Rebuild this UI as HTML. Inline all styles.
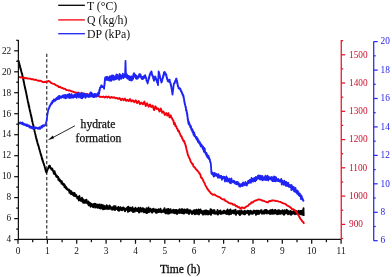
<!DOCTYPE html>
<html><head><meta charset="utf-8"><style>
html,body{margin:0;padding:0;background:#fff;}
body{width:392px;height:277px;overflow:hidden;}
svg{display:block;font-family:"Liberation Serif",serif;will-change:transform;}
</style></head><body>
<svg width="392" height="277" viewBox="0 0 392 277">
<rect width="392" height="277" fill="#fff"/>
<line x1="46.75" y1="53.8" x2="46.75" y2="239.5" stroke="#333" stroke-width="1.2" stroke-dasharray="3.2 2.16"/>
<path d="M18.3 60 L18.4 60.8 L18.5 60.9 L18.7 61.8 L18.8 61.6 L18.9 62.5 L19 62.7 L19.2 63.3 L19.3 63.5 L19.4 64.4 L19.5 64.4 L19.6 65.3 L19.8 65.9 L19.9 65.5 L20 66.5 L20.1 67.3 L20.3 67.5 L20.4 67.9 L20.5 68.9 L20.6 69.3 L20.8 68.9 L20.9 70.1 L21 70.1 L21.1 70.7 L21.3 71.2 L21.4 71.9 L21.5 72.4 L21.7 72.7 L21.8 73.1 L21.9 73.6 L22.1 74.1 L22.2 74.6 L22.3 75.1 L22.4 75.4 L22.6 75.8 L22.7 77 L22.8 77 L22.9 77.6 L23 78.2 L23.1 79 L23.2 78.4 L23.3 79.5 L23.4 80 L23.5 80.2 L23.6 81.1 L23.7 81.6 L23.8 82 L23.9 82.6 L24 82.7 L24.1 82.9 L24.2 83.8 L24.3 84.6 L24.4 85 L24.5 85.7 L24.6 85.9 L24.7 86 L24.8 86.7 L24.9 87.5 L25 88 L25.2 88.4 L25.3 88.8 L25.4 89.6 L25.5 89.2 L25.6 90.5 L25.7 90.3 L25.8 91.5 L25.9 91.4 L26 92.5 L26.1 92.6 L26.2 93.1 L26.3 93.2 L26.4 93.9 L26.5 95 L26.6 95.3 L26.7 95.3 L26.8 96.3 L26.9 96.1 L27 97.1 L27.1 97.2 L27.2 98.7 L27.3 98.4 L27.4 99.2 L27.5 99.3 L27.6 100.2 L27.7 100.5 L27.8 101.1 L27.9 101.3 L28 102.1 L28.1 102.4 L28.3 103.2 L28.4 102.9 L28.5 104.5 L28.6 104.3 L28.7 105.9 L28.8 104.8 L28.9 106 L29 106.3 L29.1 107.3 L29.2 106.4 L29.3 107.4 L29.4 108.2 L29.5 108.6 L29.6 109.7 L29.8 110 L29.9 110.2 L30 111.4 L30.1 111 L30.2 111.5 L30.3 111.9 L30.4 112.4 L30.5 113 L30.6 113.7 L30.7 114.3 L30.8 114.6 L30.9 114.9 L31 115.9 L31.1 115.7 L31.3 116.8 L31.4 116.3 L31.5 117.7 L31.6 118.2 L31.7 118.3 L31.8 118.9 L31.9 119.2 L32 119.7 L32.1 120.8 L32.2 121 L32.3 121.5 L32.5 121.7 L32.6 122.4 L32.7 122.9 L32.8 123.5 L32.9 124 L33 124.2 L33.1 124.4 L33.3 125.4 L33.4 125.5 L33.5 126.6 L33.6 127.7 L33.7 127.2 L33.8 127.7 L33.9 128.6 L34.1 128.5 L34.2 129.6 L34.3 129.8 L34.4 130.2 L34.5 130.5 L34.6 131.7 L34.8 131.9 L34.9 132.4 L35 132.8 L35.1 133.2 L35.2 133.4 L35.3 134 L35.4 134.4 L35.6 135.2 L35.7 135.8 L35.8 136.6 L35.9 136.3 L36 137.2 L36.1 137.5 L36.2 138.6 L36.4 138.3 L36.5 139 L36.6 139 L36.7 140 L36.8 140.6 L37 141.1 L37.1 141 L37.3 142 L37.4 142.7 L37.5 143.1 L37.7 143.4 L37.8 143.7 L37.9 144.3 L38.1 144.6 L38.2 145.4 L38.4 145.3 L38.5 146.1 L38.6 146.7 L38.8 146.6 L38.9 147.5 L39 148.3 L39.2 148.7 L39.3 149.3 L39.5 149.3 L39.6 150.2 L39.7 150.1 L39.9 151.3 L40 151.2 L40.2 152.1 L40.3 152.6 L40.4 153.2 L40.6 153.7 L40.7 153.7 L40.8 154.7 L41 154.4 L41.1 155.6 L41.3 155.4 L41.4 155.8 L41.5 156.6 L41.7 157.5 L41.8 157.3 L41.9 158.9 L42.1 158.6 L42.2 159.2 L42.4 159 L42.5 160.4 L42.6 160.2 L42.8 161.4 L43 161.1 L43.1 162 L43.2 162.2 L43.4 163.1 L43.5 163 L43.7 163.7 L43.9 164.1 L44 164.5 L44.1 165.1 L44.3 165.5 L44.5 165.9 L44.6 166.3 L44.7 166.6 L44.9 167.9 L45 167.9 L45.2 168.4 L45.3 169.3 L45.4 169.2 L45.6 169.5 L45.7 170.2 L45.8 171.1 L46 171.5 L46.1 171.6 L46.3 172.2 L46.4 172.6 L46.6 172 L46.8 171.5 L47 170.8 L47.2 170.2 L47.4 170.1 L47.6 169.6 L47.8 168.9 L48 168.7 L48.2 168.3 L48.5 167.6 L48.7 167.7 L48.9 166.3 L49.1 166.5 L49.3 165.7 L49.6 166.2 L49.9 165.7 L50.2 167.4 L50.5 168.1 L50.8 167.7 L51.1 168.4 L51.4 169.4 L51.7 168.6 L52 169.7 L52.3 168.6 L52.6 170.7 L52.9 170.3 L53.2 171.2 L53.4 171 L53.7 173.1 L54 171.7 L54.3 174.1 L54.6 171.3 L54.9 174.1 L55.2 173.1 L55.5 174.5 L55.8 174.7 L56 176.1 L56.3 175.5 L56.6 177 L56.9 175.6 L57.2 177 L57.5 177 L57.8 177.5 L58.1 176.9 L58.4 179.8 L58.7 178.3 L59 179.8 L59.3 179.2 L59.6 181.2 L59.9 179.4 L60.2 180.9 L60.5 180.6 L60.9 182 L61.2 181.2 L61.5 183.6 L61.8 181.2 L62.1 183.3 L62.4 182.6 L62.7 184.6 L63 184 L63.3 184.8 L63.6 183.9 L63.9 185.5 L64.2 184.1 L64.5 187.2 L64.9 185.3 L65.2 186.9 L65.6 186.5 L65.9 188.4 L66.3 187.2 L66.7 189.3 L67 188.2 L67.4 189.2 L67.7 189.3 L68.1 190.2 L68.5 189.5 L68.8 190.9 L69.2 189.6 L69.5 192.8 L69.9 190.4 L70.3 192.7 L70.6 191.1 L71 194.2 L71.3 191.1 L71.7 193.1 L72.1 193.1 L72.5 194.6 L72.9 192.8 L73.3 195.3 L73.7 194.2 L74.1 196.1 L74.5 193 L74.9 195.9 L75.3 194.4 L75.7 196.2 L76.1 194.8 L76.5 196.8 L76.9 196.5 L77.3 198.5 L77.7 196.6 L78.1 198.1 L78.5 197.6 L78.9 200.5 L79.4 196 L79.8 200.1 L80.2 198.6 L80.7 200.8 L81.2 198.4 L81.6 200.8 L82 197.8 L82.5 201.9 L83 199.3 L83.4 202.8 L83.8 199.9 L84.3 202.7 L84.8 200.7 L85.2 202.9 L85.6 200.1 L86.1 202.5 L86.5 199.8 L87 203.2 L87.4 202 L87.8 203.9 L88.3 201.4 L88.7 205.3 L89.1 202.1 L89.6 204.4 L90 203 L90.5 206.7 L91 203.6 L91.5 205.1 L92 204.1 L92.5 206.8 L92.9 204.9 L93.4 207.3 L93.9 204 L94.4 205.6 L94.9 203.6 L95.4 207.6 L95.9 204.1 L96.4 206 L96.9 205.4 L97.4 207.9 L97.9 204.4 L98.3 207.6 L98.8 206 L99.3 208 L99.8 204.4 L100.3 208.5 L100.8 205.9 L101.3 207.7 L101.8 204.6 L102.3 208.7 L102.8 205.4 L103.2 209.3 L103.7 205.5 L104.2 209.1 L104.7 206.2 L105.2 208.7 L105.7 206.5 L106.2 208.7 L106.7 205.2 L107.2 208.7 L107.7 206.2 L108.1 209 L108.6 207 L109.1 208.9 L109.6 205.5 L110.1 208.7 L110.6 206.6 L111.1 208.6 L111.6 207.8 L112.1 209.9 L112.6 207.5 L113 208.3 L113.5 206.4 L114 209.6 L114.5 206.2 L115 210.1 L115.5 206.3 L116 208.7 L116.5 208 L117 209.1 L117.5 207.8 L118 210.4 L118.5 206.9 L119 210.9 L119.5 208 L120 209.6 L120.5 207.2 L121 210 L121.5 208.3 L122 210.4 L122.5 207.7 L123 209.9 L123.5 207.4 L124 209.4 L124.5 208.3 L125 211.3 L125.5 209.1 L126 209.9 L126.5 208.1 L127 209.7 L127.5 207.2 L128 211.9 L128.5 206.8 L129 211.4 L129.5 208.1 L130 210.7 L130.5 207.8 L131 210.2 L131.5 208.7 L132 211 L132.5 207.2 L133 212 L133.5 209 L134 211.8 L134.5 208.8 L135 211.5 L135.5 207.6 L136 210.5 L136.5 208.9 L137 211.1 L137.5 208.8 L138 211.1 L138.5 207.8 L139 212.5 L139.5 209.1 L140 211.4 L140.5 207.8 L141 211.7 L141.5 209.5 L142 210.9 L142.5 208.1 L143 211.6 L143.5 208.4 L144 212.3 L144.5 209.2 L145 212 L145.5 209.9 L146 212.7 L146.5 208.1 L147 213.1 L147.5 209.5 L148 211.9 L148.5 207.5 L149 212.2 L149.5 209.3 L150 211.5 L150.5 208.7 L151 211.1 L151.5 209.9 L152 212.7 L152.5 209.3 L153 211.7 L153.5 208.8 L154 211.2 L154.5 209.6 L155 211.6 L155.5 209.5 L156 212.9 L156.5 209.8 L157 212.7 L157.5 209.9 L158 212 L158.5 209.1 L159 212.1 L159.5 210.3 L160 211.7 L160.5 208.7 L161 212.2 L161.5 210.3 L162 212.2 L162.5 210.9 L163 211.6 L163.5 209.7 L164 212 L164.5 208.3 L165 212.6 L165.5 210.3 L166 213.5 L166.5 209.5 L167 212.3 L167.5 209.3 L168 213.6 L168.5 209 L169 213.6 L169.5 210.6 L170 212.8 L170.5 209.2 L171 212.9 L171.5 210.7 L172 212.1 L172.5 210.1 L173 212.7 L173.5 209.6 L174 212.9 L174.5 210.4 L175 213.4 L175.5 210 L176 212.7 L176.5 209.9 L177 214 L177.5 210.8 L178 212.8 L178.5 210.1 L179 212.7 L179.5 209.3 L180 213.1 L180.5 210.6 L181 211.8 L181.5 209.1 L182 213.1 L182.5 209.1 L183 213.3 L183.5 210.1 L184 213.6 L184.5 209.5 L185 212.6 L185.5 210.1 L186 212.5 L186.5 209.5 L187 213 L187.5 209.3 L188 212.7 L188.5 210.3 L189 214.1 L189.5 210.1 L190 212.3 L190.5 210.3 L191 212.9 L191.5 211.5 L192 214.1 L192.5 211.5 L193 213.5 L193.5 210.5 L194 212.5 L194.5 210.3 L195 214.3 L195.5 210.4 L196 212.9 L196.5 209.8 L197 214 L197.5 211.3 L198 213.6 L198.5 209.5 L199 214.5 L199.5 210 L200 213.1 L200.5 209.4 L201 212.1 L201.5 210.8 L202 213.5 L202.5 211.4 L203 214.7 L203.5 211.3 L204 214.3 L204.5 210.6 L205 213.1 L205.5 210.4 L206 214.5 L206.5 210.5 L207 212.9 L207.5 211 L208 214.5 L208.5 211.1 L209 214 L209.5 211.5 L210 213.9 L210.5 209.3 L211 214.8 L211.5 209.7 L212 213.2 L212.5 211.9 L213 212.8 L213.5 210.2 L214 213.5 L214.5 210.2 L215 213.9 L215.5 212.3 L216 212.9 L216.5 212 L217 213.9 L217.5 210 L218 214.6 L218.5 211.4 L219 212.4 L219.5 211 L220 213.6 L220.5 210.4 L221 214 L221.5 212 L222 213.4 L222.5 211.6 L223 213.3 L223.5 210.6 L224 213.3 L224.5 210.8 L225 212.8 L225.5 211.7 L226 213.7 L226.5 211 L227 214 L227.5 209.4 L228 213.7 L228.5 212 L229 214.6 L229.5 210.1 L230 213.6 L230.5 209.4 L231 214.1 L231.5 211.5 L232 212.7 L232.5 210.6 L233 213.1 L233.5 210.4 L234 213.5 L234.5 210.4 L235 213.4 L235.5 209.7 L236 214.8 L236.5 212.1 L237 213.2 L237.5 211.2 L238 213.1 L238.5 211.3 L239 214.2 L239.5 210.7 L240 215.1 L240.5 211.7 L241 213.7 L241.5 210.5 L242 213.9 L242.5 211.6 L243 211.7 L243.5 211.7 L244 214.4 L244.5 210.8 L245 214.3 L245.5 211.1 L246 211.9 L246.5 211.9 L247 213.3 L247.5 210.8 L248 212.9 L248.5 211 L249 214.8 L249.5 211.4 L250 213.6 L250.5 210.8 L251 213.6 L251.5 211.4 L252 213.9 L252.5 211.9 L253 213.7 L253.5 210.6 L254 213 L254.5 210.7 L255 212.2 L255.5 210.9 L256 214.8 L256.5 210.7 L257 213.9 L257.5 210.7 L258 214.1 L258.5 210.8 L259 213.9 L259.5 212.2 L260 212.4 L260.5 210.5 L261 212.8 L261.5 210.1 L262 213.8 L262.5 211.4 L263 212.2 L263.5 211.2 L264 213.9 L264.5 210.1 L265 212.9 L265.5 210 L266 213.3 L266.5 210 L267 213.5 L267.5 211 L268 213.1 L268.5 211.5 L269 213.2 L269.5 210.8 L270 214.1 L270.5 210.1 L271 213.8 L271.5 210.2 L272 213.6 L272.5 209.8 L273 213.9 L273.5 211.7 L274 213.6 L274.5 210.2 L275 213.5 L275.5 210 L276 212 L276.5 211.4 L277 214.2 L277.5 210.6 L278 214.2 L278.5 210.1 L279 213.1 L279.5 210.5 L280 214 L280.5 211.2 L281 212.4 L281.5 210.9 L282 213.7 L282.5 210.3 L283 213.7 L283.5 211.8 L284 214.8 L284.5 210.3 L285 213.5 L285.5 211.3 L286.1 213.2 L286.6 209.7 L287.1 213.5 L287.6 210.4 L288.1 214.4 L288.6 211.2 L289.1 213.2 L289.6 211.4 L290.1 214.2 L290.6 210.9 L291.1 214.8 L291.6 211.7 L292.1 213.9 L292.6 212.5 L293.1 213.3 L293.6 211 L294.1 213.9 L294.6 210.4 L295.1 214.2 L295.6 210.8 L296.1 213.8 L296.6 211.3 L297.1 213.9 L297.7 211.6 L298.2 213.9 L298.7 210.6 L299.2 213.9 L299.7 211.5 L300.2 214.3 L300.7 210.9 L301.2 214 L301.7 210.6 L302.2 214.6 L302.7 210.4 L303.2 212.8 L303.2 210.2 L303.3 211.8 L303.3 209.9 L303.4 210.5 L303.4 208.9 L303.4 209.6 L303.5 208.5 L303.5 208.2 L303.5 208.7 L303.5 209.2 L303.5 209.7 L303.5 210.1 L303.5 210.6 L303.5 211.1 L303.5 211.6 L303.6 212.1 L303.6 212.6 L303.6 213.1 L303.6 213.6 L303.6 214.1 L303.6 214.5 L303.6 215 L303.6 215.5 L303.6 216" fill="none" stroke="#000" stroke-width="1.9" stroke-linejoin="round"/>
<path d="M18.6 76.8 L20 77.2 L21.3 77.1 L22.6 78.1 L24 77.7 L25.5 78.3 L27 78.3 L28.4 78.6 L29.9 78.6 L31.4 79.2 L32.8 79.2 L34.3 79.9 L35.7 79.7 L37.1 80.3 L38.6 80.8 L40 80.6 L41.5 81.2 L43.1 82.2 L44.8 81.8 L46.5 82 L47.6 81.4 L48.8 81 L50.1 81.9 L51.5 83.2 L52.8 83.6 L54 83.9 L55.3 84.7 L56.4 85.6 L57.6 85.6 L58.8 87.1 L59.9 86.8 L61.2 87.8 L62.5 88 L63.9 88.9 L65.2 88.8 L66.4 90.1 L67.6 90.1 L68.8 90.5 L70 90.5 L71.5 91.3 L72.9 91.6 L74.4 92.3 L75.8 92.6 L77.3 92.8 L78.7 92.8 L80.1 93.9 L81.4 93.2 L82.8 93.8 L84.2 93.6 L85.6 94.3 L87 94.1 L88.4 94.7 L89.7 94.4 L91.1 95.4 L92.5 95.5 L93.9 95.5 L95.3 95.3 L96.7 96.2 L98 95.4 L99.4 96.8 L100.8 96.8 L102.1 97.1 L103.4 96.5 L104.7 97.5 L106.1 96.4 L107.4 97.6 L108.7 96.5 L110 98 L111.4 96.9 L112.8 97.8 L114.1 97.2 L115.5 98.2 L116.9 97.9 L118.2 98.9 L119.6 98.1 L121 100.2 L122.3 98.7 L123.6 100.2 L124.9 98.6 L126.1 100.8 L127.4 99.8 L128.7 101.1 L130 99.1 L131.4 101.5 L132.9 100.3 L134.3 102.3 L135.7 100.2 L137.1 103.1 L138.6 101 L140 104.2 L141.4 102.5 L142.9 104.3 L144.3 101.6 L145.7 106 L147.1 103.3 L148.6 106.7 L150 104.4 L151.3 107 L152.7 105.6 L154.1 110.1 L155.4 106.3 L156.8 109 L158.1 108.4 L159.5 111.5 L160.8 108.5 L162.2 112.7 L163.5 111.6 L164.8 115 L166.2 113 L167.3 115.6 L168.4 113.2 L169.6 117.4 L170.7 115.3 L171.4 117.7 L172.1 118.3 L172.7 119.8 L173.4 120.5 L174.1 124.2 L174.8 123 L175.4 126 L176.1 126 L176.8 128.3 L177.4 128.9 L178.1 131 L178.8 130.8 L179.5 133 L180.2 134.2 L180.8 136 L181.5 136.2 L182.2 138.4 L182.8 139.3 L183.5 141.1 L184.2 141 L184.6 143 L185.1 143.6 L185.6 145.7 L186 146.6 L186.3 148.5 L186.7 149.9 L187 151.1 L187.3 152 L187.6 154.1 L188 155 L188.3 155.6 L188.9 157.1 L189.6 158.6 L190.2 160 L190.9 162.2 L191.5 162.5 L192.1 163.9 L192.8 163.9 L193.4 166.4 L194.2 167 L195.1 167.9 L195.9 169.1 L196.8 170 L197.7 171 L198.5 172 L199.1 172.9 L199.8 173.9 L200.4 174.8 L201 177.5 L201.6 177.6 L202.3 178.8 L202.9 179.5 L203.5 181.4 L204.1 182.5 L204.6 183.1 L205.2 184.8 L205.8 186 L206.5 187 L207.2 188.7 L208 189.5 L208.7 190.7 L209.8 191.8 L210.8 193.2 L211.9 194 L213 194.9 L214.2 194.4 L215.5 195.3 L216.8 196 L218 196.7 L219.3 196.9 L220.6 198.1 L221.8 198.8 L223.1 199.5 L224.3 199.3 L225.4 200.9 L226.6 201.3 L227.7 202 L228.9 202.9 L230.3 203.5 L231.8 203.5 L233.2 204.7 L234.7 204.4 L235.9 206.3 L237 206 L238.2 207.4 L239.3 207.1 L240.5 208.7 L241.9 207.5 L243.2 207.8 L244.6 208.1 L245.8 206.9 L246.9 206.2 L248.1 205.8 L249.2 204.2 L250.4 203.9 L251.5 202.2 L252.6 202.6 L253.6 201.5 L254.7 200.8 L255.8 200.5 L257 200.2 L258.2 199.5 L259.4 199.4 L260.9 199.9 L262.3 200.6 L263.8 200.8 L265.2 201.5 L266.7 202.2 L268 202.2 L269.4 200.9 L270.7 201.1 L272 200.4 L273.4 200.5 L274.8 200.6 L276.1 201 L277.5 201.1 L278.9 201.6 L280.4 201.9 L281.8 202.7 L283.3 203.3 L284.7 203.7 L285.9 204.4 L287.1 205.5 L288.4 206.1 L289.6 206.8 L290.8 207.7 L292 209.1 L293.2 209.3 L294.4 210.4 L295.6 211 L296.8 212.3 L297.4 213.4 L298.1 214.8 L298.7 215.6 L299.3 216.8 L300 218.1 L300.6 219 L301.5 220.1 L302.4 221.5 L303.3 222.1 L304.2 223.7" fill="none" stroke="#f5000a" stroke-width="1.9" stroke-linejoin="round"/>
<path d="M18.4 122.8 L18.9 123.8 L19.5 122.6 L20 123.4 L20.5 122.4 L21 123.3 L21.6 123 L22.1 124.1 L22.6 122.5 L23.1 124.6 L23.7 123.8 L24.2 124.9 L24.7 124 L25.2 125.1 L25.7 124.6 L26.2 125.7 L26.8 124.4 L27.3 126.2 L27.8 125.5 L28.3 125.9 L28.8 125.3 L29.3 127.4 L29.8 126.1 L30.3 127.8 L30.8 126.7 L31.3 127.9 L31.9 126.7 L32.4 128.6 L32.9 127.1 L33.4 128.7 L33.9 128 L34.4 128.5 L35 127.1 L35.5 128.4 L36.1 127.5 L36.7 128.2 L37.2 128 L37.8 128.8 L38.4 127.8 L38.9 128.6 L39.5 127.3 L40 129 L40.5 127.3 L40.9 128 L41.4 126.1 L41.9 127.7 L42.3 125.7 L42.8 126.8 L43.3 125.1 L43.8 126.2 L44.3 125.3 L44.8 125.5 L45.3 125 L45.5 124.8 L45.6 123.8 L45.8 123.9 L46 123.3 L46.2 122.3 L46.3 121.7 L46.5 121.3 L46.6 120.9 L46.6 120.5 L46.7 119.7 L46.8 119.9 L46.8 118.9 L46.9 118.9 L47 117.9 L47 117.4 L47.1 116.9 L47.2 116.3 L47.2 115.6 L47.3 115.2 L47.4 115 L47.5 114.1 L47.6 113 L47.7 113.2 L47.8 112.2 L47.9 112.2 L48 111 L48.1 110.9 L48.2 110 L48.3 110 L48.5 109 L48.7 109.1 L48.9 108.4 L49.1 108.2 L49.3 106.8 L49.5 107.3 L49.7 105.9 L49.9 106.1 L50.1 105.1 L50.3 105.9 L50.5 104.8 L50.8 104.5 L51.2 103.1 L51.5 104 L51.8 102.5 L52.1 103.3 L52.5 100.8 L52.8 102 L53.1 101.1 L53.5 101.8 L53.8 99.4 L54.3 100.5 L54.8 99.6 L55.2 100.8 L55.7 99 L56.2 99.9 L56.7 97.8 L57.1 99.4 L57.6 97.1 L58.1 99 L58.6 96.2 L59.2 98.8 L59.7 96 L60.2 97.8 L60.8 96.6 L61.3 97.9 L61.9 96.1 L62.4 97.1 L62.9 95.3 L63.5 97.6 L64 95.2 L64.6 97.8 L65.1 94.8 L65.6 98.3 L66.2 95.5 L66.7 97.9 L67.3 95 L67.8 96.8 L68.3 94.3 L68.9 97.9 L69.5 93.8 L70 98.2 L70.5 94.8 L71.1 97.6 L71.6 94.2 L72.2 97.5 L72.8 95.7 L73.3 97.7 L73.9 95.2 L74.4 97.2 L75 94.5 L75.5 96.8 L76.1 94.1 L76.6 97.9 L77.2 94 L77.8 96.5 L78.3 93.1 L78.9 97.5 L79.4 94.9 L80 96.7 L80.5 93.9 L81.1 98.1 L81.7 92.7 L82.2 98.3 L82.8 94.2 L83.3 97 L83.9 93.4 L84.4 96.7 L85 94.2 L85.5 97.8 L86.1 94.5 L86.6 96.6 L87.2 94.1 L87.7 96.7 L88.3 95 L88.8 97 L89.4 94.4 L89.9 96.8 L90.4 92.3 L91 96.2 L91.5 92.7 L92.1 96.5 L92.6 93.9 L93.2 97 L93.7 94.6 L94.2 97.2 L94.8 94 L95.3 96.6 L95.9 93.9 L96.4 96.7 L97 94.7 L97.5 95.7 L98.1 92.8 L98.6 95.4 L98.7 92.1 L98.8 94.5 L98.9 91.9 L99.1 93.8 L99.2 91.4 L99.3 92.8 L99.4 89.6 L99.5 91 L99.7 89.4 L99.8 90.7 L99.9 88 L100 89.1 L100.2 87.3 L100.5 87.7 L100.7 86.8 L100.9 87.4 L101.2 85.4 L101.4 86.3 L101.9 85.6 L102.3 87.2 L102.8 86.4 L103.2 87.1 L103.6 87.1 L104.1 88.8 L104.2 86.9 L104.2 87 L104.3 85.3 L104.4 86.1 L104.4 84.1 L104.5 85.6 L104.6 82.8 L104.6 84.2 L104.7 81.2 L104.7 83.6 L104.8 80.5 L104.9 81.9 L104.9 78.9 L105 80.6 L105.1 78.2 L105.1 80 L105.2 77.4 L105.8 78.6 L106.3 76.9 L106.9 80.1 L107.5 77 L108 79.8 L108.6 78.2 L109.2 80.6 L109.7 76.3 L110.3 80.6 L110.9 76.1 L111.4 80.8 L112 75.4 L112.5 79.4 L113.1 75.5 L113.6 79.8 L114.2 76.7 L114.7 79.5 L115.3 76.1 L115.8 79.2 L116.4 74.5 L116.9 78.9 L117.5 74.8 L118 78.3 L118.5 76.9 L119.1 79.9 L119.6 73.8 L120.2 78.5 L120.7 75.1 L121.3 78.9 L121.8 75.6 L122.3 76.7 L122.9 73.7 L123.4 78.2 L124 75.7 L124.5 76.9 L125.1 73.5 L125.1 75.7 L125.1 74.4 L125.1 74.6 L125.2 71.6 L125.2 75.2 L125.2 71.1 L125.2 73.2 L125.2 71.1 L125.2 71.3 L125.2 69.7 L125.3 71 L125.3 68.6 L125.3 70.2 L125.3 67.6 L125.3 68.3 L125.3 66.6 L125.4 66.9 L125.4 65.5 L125.4 66.1 L125.4 64.4 L125.4 64.3 L125.4 63.5 L125.4 63.4 L125.5 62.2 L125.5 62.2 L125.5 61.5 L125.5 61 L125.5 61.5 L125.5 62.2 L125.5 62.6 L125.6 63.6 L125.6 63.5 L125.6 64.7 L125.6 64.6 L125.6 66 L125.6 65.8 L125.6 67 L125.7 67 L125.7 68.2 L125.7 67.6 L125.7 69.5 L125.7 68.7 L125.7 70.1 L125.8 69.2 L125.8 72.1 L125.8 71.3 L125.8 72.5 L125.8 71.7 L125.8 74.2 L125.8 73.2 L125.9 76.9 L125.9 72.4 L125.9 75.9 L125.9 73.1 L126.4 77.5 L126.9 74.3 L127.4 78.6 L127.9 75.9 L128.4 78.9 L128.9 75.8 L129.4 80.2 L129.8 77 L130.2 79.3 L130.6 76.7 L131.1 80.6 L131.5 76.4 L131.9 80.3 L132.3 77.5 L132.5 79.6 L132.6 77.2 L132.8 79.4 L133 76.7 L133.2 78.6 L133.3 74.4 L133.5 76.7 L133.7 74.2 L133.8 76.2 L134 73.1 L134.4 75.4 L134.8 74.3 L135.1 77.1 L135.5 75 L135.9 78.5 L136.2 75.7 L136.6 78.9 L137 77.5 L137.4 78.6 L137.8 76.3 L138.1 78.1 L138.5 76 L138.9 77.1 L139.2 74.2 L139.6 75.5 L140 74.1 L140.2 75.2 L140.4 74.3 L140.7 77 L140.9 75.5 L141.1 77.8 L141.3 77.2 L141.6 78.4 L141.8 77.6 L142 79.1 L142.4 76.9 L142.8 79.1 L143.1 77.6 L143.5 78.4 L143.9 76.2 L144.2 77.9 L144.6 75.6 L145 76.7 L145.2 75.2 L145.4 77.8 L145.6 76.4 L145.8 78.2 L146 77.7 L146.2 78.9 L146.3 78 L146.5 80.7 L146.7 80.5 L146.9 81.5 L147.1 81 L147.3 82.2 L147.5 82.4 L147.7 83.5 L147.8 81.4 L148 82.1 L148.1 80.5 L148.3 81 L148.4 79.8 L148.5 79.8 L148.7 78.8 L148.8 79.3 L148.9 77.4 L149.1 78.7 L149.2 76.3 L149.4 77.3 L149.5 75.1 L149.7 76.1 L149.9 74 L150.1 74.8 L150.3 73.8 L150.4 73.8 L150.6 72.5 L150.8 72.9 L151 72 L151.2 72.7 L151.4 71.4 L151.5 73 L151.7 72.2 L151.9 73.9 L152 74.1 L152.2 75.7 L152.4 74.8 L152.6 76.3 L152.7 76.2 L152.9 76.9 L153.1 76.3 L153.2 78.4 L153.4 77.9 L153.6 79.3 L153.7 78.3 L153.9 80.8 L154.1 78.8 L154.4 79.9 L154.6 77.7 L154.8 78 L155.1 76.3 L155.3 77.6 L155.5 76.8 L155.7 78.2 L155.9 78 L156.1 79.7 L156.3 79.2 L156.5 80.7 L156.7 79.9 L156.8 81.9 L157 81.6 L157.2 82.4 L157.4 82.6 L157.6 83.5 L157.8 83.3 L158 85.2 L158 83 L158.1 83.8 L158.1 81.9 L158.1 83.6 L158.2 80.9 L158.2 81.9 L158.2 80 L158.2 81.2 L158.3 79.4 L158.3 79.8 L158.3 78.5 L158.4 78.3 L158.4 76.3 L158.4 77.1 L158.5 75.4 L158.5 76.9 L158.5 74.8 L158.5 75.9 L158.6 73.9 L158.6 74.5 L158.6 71.4 L158.7 72.7 L158.7 71.6 L158.8 72.9 L159 72.3 L159.1 74.3 L159.3 73.3 L159.4 75.6 L159.5 74 L159.7 76.3 L159.8 75.5 L160 77.3 L160.1 76.8 L160.2 78.3 L160.4 78 L160.5 79.1 L160.7 78.9 L160.8 80.5 L160.9 79.4 L161.1 81.1 L161.2 81.2 L161.4 82.5 L161.5 82.3 L161.6 82.4 L161.8 80.9 L161.9 81.9 L162.1 79.5 L162.2 80.3 L162.4 79.4 L162.5 79.2 L162.7 77.9 L162.8 78.7 L163 75.8 L163.1 76.8 L163.3 75.4 L163.4 77 L163.6 74.2 L163.7 75.6 L163.9 72.3 L164 74.2 L164.2 72.1 L164.3 73 L164.6 71.8 L165 74.2 L165.3 72.8 L165.7 74.8 L166 74.4 L166.2 75.5 L166.3 74.5 L166.4 76.6 L166.6 76.1 L166.8 77.9 L166.9 77.6 L167.1 79.3 L167.2 77.9 L167.4 79.4 L167.5 79.4 L167.7 81.2 L167.8 80.5 L168.4 81.7 L168.9 79.8 L169.5 80.4 L169.7 79.7 L169.8 81.2 L170 81.5 L170.1 82.7 L170.3 82.8 L170.4 83.5 L170.6 83.1 L170.7 84.9 L170.9 84.2 L171 86.2 L171.2 85.8 L171.3 86.3 L171.4 87.1 L171.4 88.3 L171.5 87.5 L171.6 88.9 L171.7 88.9 L171.8 89.9 L171.8 90.3 L171.9 91 L172 91.1 L172.1 92 L172.2 92.2 L172.3 93 L172.3 93.4 L172.4 94 L172.5 94.5 L172.6 94 L172.6 93.4 L172.7 92.9 L172.8 92.2 L172.8 91.9 L172.9 91.1 L173 91 L173 89.7 L173.1 89.8 L173.2 88.8 L173.3 88.5 L173.3 87.9 L173.4 87.7 L173.5 86.3 L173.5 86.9 L173.6 85.5 L173.7 85.2 L173.7 84.3 L173.8 84.5 L174.1 83.3 L174.3 83.2 L174.6 82.4 L174.8 83 L175.1 80.9 L175.4 81.2 L175.6 80.1 L175.9 80.8 L176.1 78.7 L176.4 79.5 L176.5 78.7 L176.6 80.9 L176.8 80.3 L176.9 81.6 L177 80.5 L177.1 82.9 L177.2 81.8 L177.4 84.2 L177.5 82.7 L177.6 84.8 L177.7 84.1 L177.8 86.2 L178 85.9 L178.1 86.5 L178.2 86.1 L178.6 88.3 L178.9 87.7 L179.3 88.8 L179.7 88.1 L180.1 89.5 L180.4 88.8 L180.8 90.7 L181 90.4 L181.2 91.7 L181.5 91.3 L181.7 92.8 L181.9 92.1 L182.1 93.9 L182.3 93 L182.5 94.6 L182.8 94.5 L183 96 L183.2 95 L183.4 96.9 L183.5 95.7 L183.6 97.6 L183.7 96.8 L183.8 98.8 L183.9 98 L184 99.3 L184.1 98.8 L184.2 101.4 L184.3 101.2 L184.4 101.6 L184.5 101.2 L184.6 103.4 L184.7 102.3 L184.8 104.1 L184.9 103.5 L185 104.8 L185.1 104.5 L185.2 105.7 L185.4 105.7 L185.5 107.2 L185.6 106.5 L185.8 108 L185.9 107 L186 110.2 L186.1 108.8 L186.3 110.2 L186.4 109.9 L186.5 111.8 L186.7 110.8 L186.8 113.5 L186.9 112.3 L187 113.1 L187.1 113 L187.1 115 L187.2 113.5 L187.3 116.2 L187.4 114.3 L187.5 116.8 L187.6 117 L187.6 119.1 L187.7 117.2 L187.8 119 L187.9 118.7 L188 120.9 L188.1 119.4 L188.1 121.6 L188.2 120.4 L188.3 122.9 L188.5 121.1 L188.8 124.5 L189 122 L189.3 124.9 L189.5 123.5 L189.7 125.1 L190 124.8 L190.2 127.1 L190.4 126.2 L190.7 127.8 L190.9 126 L191.2 129 L191.4 128.1 L191.6 130.3 L191.9 128.6 L192.1 130.9 L192.4 130.1 L192.6 132.5 L192.8 130.1 L193.1 133.2 L193.3 131.4 L193.5 134.8 L193.8 133 L194 134.5 L194.3 132.6 L194.5 136.3 L194.8 134.6 L195.1 136.7 L195.3 136 L195.6 137.3 L195.9 136.8 L196.2 139 L196.5 136.9 L196.8 139.5 L197 139.8 L197.3 140.3 L197.6 138.4 L197.9 141.8 L198.2 139.9 L198.4 142.1 L198.7 140.3 L199 143.1 L199.3 141.9 L199.6 143.8 L199.9 142.2 L200.2 145.2 L200.5 143.8 L200.8 146.5 L201.1 144.1 L201.4 146.5 L201.8 145.1 L202.1 147.1 L202.4 146.7 L202.7 149 L203 146.3 L203.3 149.6 L203.6 148.8 L203.9 151.8 L204.2 147.8 L204.5 150.7 L204.8 148.7 L205 152.1 L205.3 151.8 L205.6 153.8 L205.8 153 L206.1 154.8 L206.4 152.8 L206.6 155.6 L206.9 154 L207.2 157.1 L207.5 155.1 L207.7 157.1 L208 156 L208.3 158.3 L208.5 155.9 L208.8 158.9 L209.1 157.3 L209.3 159.4 L209.6 158.8 L209.8 160.5 L209.9 159.5 L210.1 162.1 L210.3 161.3 L210.5 162.4 L210.6 162.6 L210.8 163.7 L210.8 163.4 L210.9 164.5 L210.9 164.4 L210.9 165.5 L211 165.9 L211 166.5 L211 166.7 L211.1 167.9 L211.1 167.6 L211.2 169.6 L211.2 168.9 L211.2 170.6 L211.3 169.6 L211.3 172 L211.3 171 L211.4 173.2 L211.4 172.1 L211.9 174.1 L212.3 172.4 L212.8 174.9 L213.2 173.3 L213.7 176.6 L214.2 172.8 L214.7 176.1 L215.2 173.3 L215.7 175.4 L216.2 173.8 L216.8 175.9 L217.3 174.6 L217.8 177.6 L218.3 174.1 L218.8 177.7 L219.3 175.3 L219.8 177.6 L220.3 175.8 L220.8 177.9 L221.3 175.9 L221.9 179.8 L222.4 177.2 L222.9 178.2 L223.4 176.7 L223.9 178.4 L224.4 176.8 L224.9 181.5 L225.4 178.4 L225.9 180.4 L226.4 176.5 L226.9 181.4 L227.4 177.9 L227.9 181.3 L228.4 179.5 L228.9 181.6 L229.4 178.7 L229.9 182.9 L230.4 179.6 L230.9 183.4 L231.4 178.5 L231.9 181.8 L232.4 181 L232.9 182.3 L233.5 180.7 L234 182.6 L234.5 181.2 L235 183.6 L235.6 182.3 L236.1 184 L236.6 181.9 L237.1 184.3 L237.7 181.9 L238.2 184.5 L238.7 183 L239.2 186.3 L239.8 184.2 L240.3 186.7 L240.8 184.3 L241.4 185.8 L242 183.7 L242.5 186.1 L243.1 182.3 L243.7 185.4 L244.3 183.8 L244.8 184.9 L245.4 181.8 L246 185 L246.4 183.6 L246.8 185.5 L247.2 182.8 L247.6 183.8 L248 181.1 L248.4 183.1 L248.8 180.6 L249.2 182.9 L249.6 179.8 L250 181.6 L250.4 180.2 L250.9 182.8 L251.5 178 L252 181.3 L252.6 178.9 L253.1 181.6 L253.6 178.3 L254.2 181 L254.7 177.9 L255.3 181.4 L255.8 177 L256.3 180.2 L256.9 177.2 L257.4 178.9 L258 175.6 L258.5 178.4 L259 175.3 L259.6 179.3 L260.1 175.7 L260.7 179.6 L261.2 176.1 L261.7 179.5 L262.3 175.9 L262.8 180.3 L263.3 177.4 L263.9 179.5 L264.4 177.2 L264.9 179.8 L265.5 175.6 L266 180.2 L266.6 177.2 L267.1 179.9 L267.6 175.7 L268.2 180.5 L268.7 177 L269.2 179.2 L269.8 177.3 L270.3 179.4 L270.8 177.3 L271.4 179.8 L271.9 177 L272.4 181.2 L272.9 178.1 L273.5 181.2 L274 176.5 L274.5 181.2 L275.1 176.9 L275.6 181.4 L276.1 177.3 L276.7 180.9 L277.2 179.6 L277.7 180.8 L278.2 178.8 L278.8 181.2 L279.3 180.1 L279.8 181.7 L280.3 179.8 L280.8 181.8 L281.3 178.9 L281.8 184.6 L282.3 180.6 L282.8 183.6 L283.3 181.8 L283.8 184.8 L284.3 180.7 L284.8 184.6 L285.3 182 L285.8 185.9 L286.3 181.9 L286.8 185.9 L287.3 182.8 L287.8 186.2 L288.3 182.8 L288.8 186.8 L289.2 184.9 L289.7 186.9 L290.1 185.3 L290.6 187.4 L291 184.9 L291.4 190.1 L291.9 185.5 L292.4 189.6 L292.8 187.5 L293.2 188.7 L293.7 186.9 L294.1 191.4 L294.6 189.2 L295.1 191.9 L295.5 188 L295.9 192.2 L296.2 190.5 L296.6 192.8 L297 190.4 L297.3 193.9 L297.7 191 L298.1 194.5 L298.4 192 L298.8 195.4 L299.2 193.5 L299.5 196 L299.9 193.6 L300.3 196.4 L300.6 195.3 L301 199.1 L301.3 195.5 L301.5 198.8 L301.8 196.3 L302.1 199 L302.4 198.4 L302.6 199.9 L302.9 199.2 L303.2 200.9 L303.4 200.5 L303.7 201.3" fill="none" stroke="#1f24f5" stroke-width="1.8" stroke-linejoin="round"/>
<g stroke="#111" stroke-width="1.25" fill="none">
<line x1="18.4" y1="40.0" x2="18.4" y2="239.95"/>
<line x1="17.9" y1="239.45" x2="341.25" y2="239.45"/>
<line x1="14.2" y1="239.6" x2="18.4" y2="239.6"/>
<line x1="16.2" y1="229.1" x2="18.4" y2="229.1"/>
<line x1="14.2" y1="218.6" x2="18.4" y2="218.6"/>
<line x1="16.2" y1="208.1" x2="18.4" y2="208.1"/>
<line x1="14.2" y1="197.6" x2="18.4" y2="197.6"/>
<line x1="16.2" y1="187.1" x2="18.4" y2="187.1"/>
<line x1="14.2" y1="176.7" x2="18.4" y2="176.7"/>
<line x1="16.2" y1="166.2" x2="18.4" y2="166.2"/>
<line x1="14.2" y1="155.7" x2="18.4" y2="155.7"/>
<line x1="16.2" y1="145.2" x2="18.4" y2="145.2"/>
<line x1="14.2" y1="134.7" x2="18.4" y2="134.7"/>
<line x1="16.2" y1="124.2" x2="18.4" y2="124.2"/>
<line x1="14.2" y1="113.7" x2="18.4" y2="113.7"/>
<line x1="16.2" y1="103.2" x2="18.4" y2="103.2"/>
<line x1="14.2" y1="92.7" x2="18.4" y2="92.7"/>
<line x1="16.2" y1="82.2" x2="18.4" y2="82.2"/>
<line x1="14.2" y1="71.8" x2="18.4" y2="71.8"/>
<line x1="16.2" y1="61.3" x2="18.4" y2="61.3"/>
<line x1="14.2" y1="50.8" x2="18.4" y2="50.8"/>
<line x1="16.2" y1="40.3" x2="18.4" y2="40.3"/>
<line x1="18" y1="239.45" x2="18" y2="243.8"/>
<line x1="32.7" y1="239.45" x2="32.7" y2="242.2"/>
<line x1="47.4" y1="239.45" x2="47.4" y2="243.8"/>
<line x1="62.1" y1="239.45" x2="62.1" y2="242.2"/>
<line x1="76.7" y1="239.45" x2="76.7" y2="243.8"/>
<line x1="91.4" y1="239.45" x2="91.4" y2="242.2"/>
<line x1="106.1" y1="239.45" x2="106.1" y2="243.8"/>
<line x1="120.8" y1="239.45" x2="120.8" y2="242.2"/>
<line x1="135.5" y1="239.45" x2="135.5" y2="243.8"/>
<line x1="150.2" y1="239.45" x2="150.2" y2="242.2"/>
<line x1="164.8" y1="239.45" x2="164.8" y2="243.8"/>
<line x1="179.5" y1="239.45" x2="179.5" y2="242.2"/>
<line x1="194.2" y1="239.45" x2="194.2" y2="243.8"/>
<line x1="208.9" y1="239.45" x2="208.9" y2="242.2"/>
<line x1="223.6" y1="239.45" x2="223.6" y2="243.8"/>
<line x1="238.3" y1="239.45" x2="238.3" y2="242.2"/>
<line x1="253" y1="239.45" x2="253" y2="243.8"/>
<line x1="267.6" y1="239.45" x2="267.6" y2="242.2"/>
<line x1="282.3" y1="239.45" x2="282.3" y2="243.8"/>
<line x1="297" y1="239.45" x2="297" y2="242.2"/>
<line x1="311.7" y1="239.45" x2="311.7" y2="243.8"/>
<line x1="326.4" y1="239.45" x2="326.4" y2="242.2"/>
<line x1="341.1" y1="239.45" x2="341.1" y2="243.8"/>
</g>
<g stroke="#e8102a" stroke-width="1.25" fill="none">
<line x1="341.25" y1="40.0" x2="341.25" y2="239.45"/>
<line x1="341.25" y1="238.5" x2="343.2" y2="238.5"/>
<line x1="341.25" y1="224.4" x2="345.2" y2="224.4"/>
<line x1="341.25" y1="210.2" x2="343.2" y2="210.2"/>
<line x1="341.25" y1="196.1" x2="345.2" y2="196.1"/>
<line x1="341.25" y1="182" x2="343.2" y2="182"/>
<line x1="341.25" y1="167.8" x2="345.2" y2="167.8"/>
<line x1="341.25" y1="153.7" x2="343.2" y2="153.7"/>
<line x1="341.25" y1="139.6" x2="345.2" y2="139.6"/>
<line x1="341.25" y1="125.4" x2="343.2" y2="125.4"/>
<line x1="341.25" y1="111.3" x2="345.2" y2="111.3"/>
<line x1="341.25" y1="97.2" x2="343.2" y2="97.2"/>
<line x1="341.25" y1="83" x2="345.2" y2="83"/>
<line x1="341.25" y1="68.9" x2="343.2" y2="68.9"/>
<line x1="341.25" y1="54.8" x2="345.2" y2="54.8"/>
<line x1="341.25" y1="40.7" x2="343.2" y2="40.7"/>
</g>
<g stroke="#2a2af0" stroke-width="1.25" fill="none">
<line x1="373.7" y1="41.6" x2="373.7" y2="240.7"/>
<line x1="373.7" y1="240.7" x2="377.7" y2="240.7"/>
<line x1="373.7" y1="226.5" x2="375.7" y2="226.5"/>
<line x1="373.7" y1="212.3" x2="377.7" y2="212.3"/>
<line x1="373.7" y1="198" x2="375.7" y2="198"/>
<line x1="373.7" y1="183.8" x2="377.7" y2="183.8"/>
<line x1="373.7" y1="169.6" x2="375.7" y2="169.6"/>
<line x1="373.7" y1="155.4" x2="377.7" y2="155.4"/>
<line x1="373.7" y1="141.2" x2="375.7" y2="141.2"/>
<line x1="373.7" y1="126.9" x2="377.7" y2="126.9"/>
<line x1="373.7" y1="112.7" x2="375.7" y2="112.7"/>
<line x1="373.7" y1="98.5" x2="377.7" y2="98.5"/>
<line x1="373.7" y1="84.3" x2="375.7" y2="84.3"/>
<line x1="373.7" y1="70.1" x2="377.7" y2="70.1"/>
<line x1="373.7" y1="55.8" x2="375.7" y2="55.8"/>
<line x1="373.7" y1="41.6" x2="377.7" y2="41.6"/>
</g>
<line x1="74.9" y1="125.8" x2="52" y2="138" stroke="#111" stroke-width="0.9"/>
<path d="M47.8 140.2 L52.8 135.6 L54.2 138.3 Z" fill="#111"/>
<g fill="#111">
<text x="11.2" y="242.3" text-anchor="end" font-size="9.3">4</text>
<text x="11.2" y="221.4" text-anchor="end" font-size="9.3">6</text>
<text x="11.2" y="200.4" text-anchor="end" font-size="9.3">8</text>
<text x="11.2" y="179.4" text-anchor="end" font-size="9.3">10</text>
<text x="11.2" y="158.4" text-anchor="end" font-size="9.3">12</text>
<text x="11.2" y="137.4" text-anchor="end" font-size="9.3">14</text>
<text x="11.2" y="116.5" text-anchor="end" font-size="9.3">16</text>
<text x="11.2" y="95.5" text-anchor="end" font-size="9.3">18</text>
<text x="11.2" y="74.5" text-anchor="end" font-size="9.3">20</text>
<text x="11.2" y="53.5" text-anchor="end" font-size="9.3">22</text>
<text x="18" y="254.3" text-anchor="middle" font-size="9.3">0</text>
<text x="47.4" y="254.3" text-anchor="middle" font-size="9.3">1</text>
<text x="76.7" y="254.3" text-anchor="middle" font-size="9.3">2</text>
<text x="106.1" y="254.3" text-anchor="middle" font-size="9.3">3</text>
<text x="135.5" y="254.3" text-anchor="middle" font-size="9.3">4</text>
<text x="164.8" y="254.3" text-anchor="middle" font-size="9.3">5</text>
<text x="194.2" y="254.3" text-anchor="middle" font-size="9.3">6</text>
<text x="223.6" y="254.3" text-anchor="middle" font-size="9.3">7</text>
<text x="253" y="254.3" text-anchor="middle" font-size="9.3">8</text>
<text x="282.3" y="254.3" text-anchor="middle" font-size="9.3">9</text>
<text x="311.7" y="254.3" text-anchor="middle" font-size="9.3">10</text>
<text x="341.1" y="254.3" text-anchor="middle" font-size="9.3">11</text>
<text x="349" y="227.1" font-size="9.3" fill="#c8102e">900</text>
<text x="349" y="198.9" font-size="9.3" fill="#c8102e">1000</text>
<text x="349" y="170.6" font-size="9.3" fill="#c8102e">1100</text>
<text x="349" y="142.3" font-size="9.3" fill="#c8102e">1200</text>
<text x="349" y="114.1" font-size="9.3" fill="#c8102e">1300</text>
<text x="349" y="85.8" font-size="9.3" fill="#c8102e">1400</text>
<text x="349" y="57.5" font-size="9.3" fill="#c8102e">1500</text>
<text x="380.5" y="243.4" font-size="9.3" fill="#2222e8">6</text>
<text x="380.5" y="215" font-size="9.3" fill="#2222e8">8</text>
<text x="380.5" y="186.6" font-size="9.3" fill="#2222e8">10</text>
<text x="380.5" y="158.1" font-size="9.3" fill="#2222e8">12</text>
<text x="380.5" y="129.7" font-size="9.3" fill="#2222e8">14</text>
<text x="380.5" y="101.2" font-size="9.3" fill="#2222e8">16</text>
<text x="380.5" y="72.8" font-size="9.3" fill="#2222e8">18</text>
<text x="380.5" y="44.4" font-size="9.3" fill="#2222e8">20</text>
<text x="159.9" y="273.1" font-size="11.6" stroke="#111" stroke-width="0.3">Time (h)</text>
<text x="80.6" y="127.5" font-size="11.6" stroke="#111" stroke-width="0.25">hydrate</text>
<text x="75.6" y="141.6" font-size="11.6" stroke="#111" stroke-width="0.25">formation</text>
<line x1="58.2" y1="5.3" x2="84.9" y2="5.3" stroke="#000" stroke-width="1.3"/>
<line x1="58.2" y1="19.9" x2="84.9" y2="19.9" stroke="#f5000a" stroke-width="1.3"/>
<line x1="58.2" y1="33.7" x2="84.9" y2="33.7" stroke="#1f24f5" stroke-width="1.3"/>
<text x="86.9" y="9.5" font-size="11.8">T (&#176;C)</text>
<text x="87.1" y="24" font-size="11.8">Q (kg/h)</text>
<text x="87.1" y="38.2" font-size="11.8">DP (kPa)</text>
</g>
</svg>
</body></html>
